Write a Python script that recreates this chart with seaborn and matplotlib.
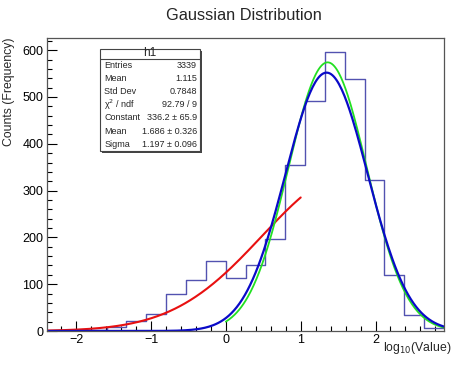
import numpy as np
import pandas as pd
import seaborn as sns
import matplotlib.pyplot as plt
from matplotlib.patches import Rectangle
from matplotlib.ticker import MultipleLocator

sns.set_style("white")
plt.rcParams['font.family'] = ['Liberation Sans', 'DejaVu Sans']

# histogram h1: 20 bins of log10(value)
x_min, x_max = -2.39, 2.915
counts = [1, 2, 3, 9, 21, 36, 80, 109, 150, 113,
          141, 196, 354, 491, 596, 539, 323, 119, 34, 7]

# fitted gaussians (constant, mean, sigma, range)
red_fit = (336.2, 1.686, 1.197, -2.39, 1.0)
blue_fit = (552.0, 1.346, 0.550, -2.39, 2.915)
green_fit = (574.0, 1.360, 0.525, 0.0, 2.915)

stats_names = ["Entries", "Mean", "Std Dev", "\u03c7$^{2}$ / ndf", "Constant", "Mean", "Sigma"]
stats_values = ["3339", "1.115", "0.7848", "92.79 / 9", "336.2 \u00b1 65.9",
                "1.686 \u00b1 0.326", "1.197 \u00b1 0.096"]

edges = [float(e) for e in np.linspace(x_min, x_max, len(counts) + 1)]
centers = [(a + b) / 2 for a, b in zip(edges[:-1], edges[1:])]
hist = pd.DataFrame({"x": centers, "n": counts})

W, H = 474, 366
fig = plt.figure(figsize=(W / 100, H / 100), dpi=100)
ax = fig.add_axes([47 / W, 1 - 331 / H, 397 / W, 293 / H])

sns.histplot(data=hist, x="x", weights="n", bins=edges, element="step", fill=False,
             color="#5252b0", linewidth=1.0, ax=ax)


def gauss_df(p):
    c, m, s, a, b = p
    xs = np.linspace(a, b, 300)
    return pd.DataFrame({"x": xs, "y": c * np.exp(-0.5 * ((xs - m) / s) ** 2)})


sns.lineplot(data=gauss_df(red_fit), x="x", y="y", color="#e81010", linewidth=1.5, ax=ax)
sns.lineplot(data=gauss_df(green_fit), x="x", y="y", color="#22e022", linewidth=1.3, ax=ax)
sns.lineplot(data=gauss_df(blue_fit), x="x", y="y", color="#0a0ac8", linewidth=1.6, ax=ax)

ax.set_xlim(x_min, x_max)
ax.set_ylim(0, 626)
ax.set_xlabel("")
ax.set_ylabel("")
ax.xaxis.set_major_locator(MultipleLocator(1))
ax.xaxis.set_minor_locator(MultipleLocator(0.2))
ax.yaxis.set_major_locator(MultipleLocator(100))
ax.yaxis.set_minor_locator(MultipleLocator(20))
ax.tick_params(which="both", direction="in", bottom=True, left=True, top=False, right=False,
               colors="black", labelsize=9, width=0.8)
ax.tick_params(which="major", length=7, pad=2.5)
ax.tick_params(which="minor", length=3.5)
for sp in ax.spines.values():
    sp.set_color("#555555")
    sp.set_linewidth(0.9)

fig.text(244 / W, 1 - 15 / H, "Gaussian Distribution", ha="center", va="center", fontsize=11.8)
fig.text(9 / W, 1 - 38 / H, "Counts (Frequency)", rotation=90, ha="center", va="top", fontsize=8.8)
fig.text(452 / W, 1 - 351 / H, "log$_{10}$(Value)", ha="right", va="baseline", fontsize=8.8)

# stats box
bx0, bx1, by0, by1 = 100, 200, 49, 151
pf = fig.transFigure
fig.patches.append(Rectangle((bx0 / W + 1.5 / W, 1 - by1 / H - 1.5 / H), (bx1 - bx0) / W, (by1 - by0) / H,
                             transform=pf, facecolor="#444444", edgecolor="none", zorder=5))
fig.patches.append(Rectangle((bx0 / W, 1 - by1 / H), (bx1 - bx0) / W, (by1 - by0) / H,
                             transform=pf, facecolor="white", edgecolor="#444444", linewidth=0.8, zorder=6))
fig.add_artist(plt.Line2D([bx0 / W, bx1 / W], [1 - 58.5 / H, 1 - 58.5 / H], transform=pf,
                          color="#444444", linewidth=0.8, zorder=7))
fig.text((bx0 + bx1) / 2 / W, 1 - 53.5 / H, "h1", ha="center", va="center", fontsize=8.5, zorder=8)
pitch = (by1 - 58.5) / len(stats_names)
for i, (nm, val) in enumerate(zip(stats_names, stats_values)):
    yc = 1 - (58.5 + pitch * (i + 0.5)) / H
    fig.text(104.5 / W, yc, nm, ha="left", va="center", fontsize=6.5, zorder=8)
    fig.text(197 / W, yc, val, ha="right", va="center", fontsize=6.5, zorder=8)

fig.savefig("out.png", dpi=100)
